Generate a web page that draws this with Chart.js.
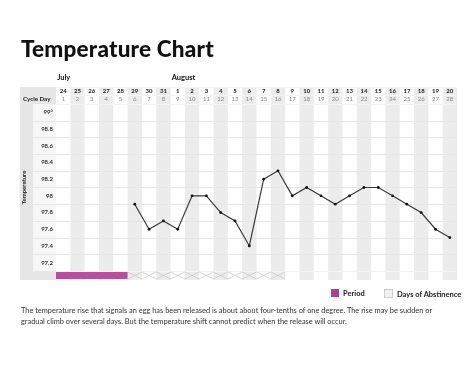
<!DOCTYPE html>
<html lang="en">
<head>
    <meta charset="UTF-8">
    <title>Temperature Chart</title>
    <script src="https://cdn.jsdelivr.net/npm/chart.js"></script>
    <style>
        body {
            margin: 0;
            background: #fff;
            font-family: Lato, Arial, sans-serif;
        }
        .wrap {
            position: relative;
            width: 474px;
            height: 366px;
            overflow: hidden;
        }
        #tempChart {
            position: absolute;
            left: 0;
            top: 0;
        }
        h1 {
            position: absolute;
            left: 21px;
            top: 35px;
            margin: 0;
            font-size: 22.5px;
            font-weight: 900;
            color: #111;
            letter-spacing: 0.2px;
        }
        .legend {
            position: absolute;
            top: 289px;
            font-size: 7.5px;
            font-weight: 700;
            color: #222;
        }
        .legend span {
            display: inline-block;
            width: 8px;
            height: 8px;
            vertical-align: -1px;
            margin-right: 4px;
        }
        .note {
            position: absolute;
            left: 21px;
            top: 305px;
            width: 416px;
            margin: 0;
            font-size: 7.4px;
            line-height: 11px;
            color: #333;
        }
    </style>
</head>
<body>
    <div class="wrap">
        <canvas id="tempChart" width="474" height="366"></canvas>
        <h1>Temperature Chart</h1>
        <div class="legend" style="left:331px"><span style="background:#a8418f"></span>Period</div>
        <div class="legend" style="left:384px"><span style="background:#f2f2f2;border:0.5px solid #ccc;width:7px;height:7px"></span>Days of Abstinence</div>
        <p class="note">The temperature rise that signals an egg has been released is about about four-tenths of one degree. The rise may be sudden or gradual climb over several days. But the temperature shift cannot predict when the release will occur.</p>
    </div>

    <script>
        const dates = ['24','25','26','27','28','29','30','31','1','2','3','4','5','6','7','8','9','10','11','12','13','14','15','16','17','18','19','20'];
        const cycleDays = ['1','2','3','4','5','6','7','8','9','10','11','12','13','14','15','16','17','18','19','20','21','22','23','24','25','26','27','28'];
        const temps = [null,null,null,null,null,97.9,97.6,97.7,97.6,98.0,98.0,97.8,97.7,97.4,98.2,98.3,98.0,98.1,98.0,97.9,98.0,98.1,98.1,98.0,97.9,97.8,97.6,97.5];
        const yTicks = [99,98.8,98.6,98.4,98.2,98,97.8,97.6,97.4,97.2];
        const months = [{label: 'July', at: 0}, {label: 'August', at: 8}];
        const periodDays = [0, 4];      // column range
        const abstinenceDays = [5, 15]; // column range

        const gray = '#ececec';

        const backdrop = {
            id: 'backdrop',
            beforeDraw(chart) {
                const c = chart.ctx;
                const x = chart.scales.x, y = chart.scales.y;
                const a = chart.chartArea;
                const w = (x.getPixelForValue(1) - x.getPixelForValue(0));
                const headTop = 87, rowMid = 95, rowBot = 280;
                c.save();
                // left side panels
                c.fillStyle = '#e6e6e6';
                c.fillRect(20, headTop, a.left - 20, a.top - headTop);
                c.fillRect(20, a.top, 13, rowBot - a.top);
                c.fillRect(33, a.bottom, a.left - 33, rowBot - a.bottom);
                c.fillStyle = '#f6f6f6';
                c.fillRect(33, a.top, a.left - 33, a.bottom - a.top);
                // column stripes
                c.fillStyle = gray;
                dates.forEach((d, i) => {
                    if (i % 2 === 1) {
                        const cx = x.getPixelForValue(i);
                        c.fillRect(cx - w / 2, headTop, w, rowBot - headTop);
                    }
                });
                // horizontal grid between ticks
                c.strokeStyle = '#e6e6e6';
                c.lineWidth = 1;
                for (let v = 97.3; v < 99.05; v += 0.2) {
                    const py = Math.round(y.getPixelForValue(v)) + 0.5;
                    c.beginPath();
                    c.moveTo(33, py);
                    c.lineTo(a.right, py);
                    c.stroke();
                }
                [headTop, rowMid, a.top, a.bottom].forEach(py => {
                    c.strokeStyle = '#f4f4f4';
                    c.beginPath();
                    c.moveTo(a.left, py + 0.5);
                    c.lineTo(a.right, py + 0.5);
                    c.stroke();
                });
                // period bar
                const pl = x.getPixelForValue(periodDays[0]) - w / 2;
                const pr = x.getPixelForValue(periodDays[1]) + w / 2;
                c.fillStyle = '#b5519c';
                c.fillRect(pl, a.bottom + 1, pr - pl, rowBot - a.bottom - 2);
                // abstinence crosses
                c.strokeStyle = '#c4c4c4';
                c.lineWidth = 0.7;
                for (let i = abstinenceDays[0]; i <= abstinenceDays[1]; i++) {
                    const l = x.getPixelForValue(i) - w / 2;
                    c.beginPath();
                    c.moveTo(l, a.bottom + 1);
                    c.lineTo(l + w, rowBot - 1);
                    c.moveTo(l, rowBot - 1);
                    c.lineTo(l + w, a.bottom + 1);
                    c.stroke();
                }
                // header text
                c.textAlign = 'center';
                c.textBaseline = 'middle';
                dates.forEach((d, i) => {
                    const cx = x.getPixelForValue(i);
                    c.fillStyle = '#222';
                    c.font = 'bold 6px Lato, sans-serif';
                    c.fillText(d, cx, 91.5);
                    c.fillStyle = '#888';
                    c.font = '6px Lato, sans-serif';
                    c.fillText(cycleDays[i], cx, 99.5);
                });
                c.fillStyle = '#111';
                c.font = 'bold 7.5px Lato, sans-serif';
                months.forEach(m => {
                    c.textAlign = 'left';
                    c.fillText(m.label, x.getPixelForValue(m.at) - 6, 78);
                });
                c.fillStyle = '#222';
                c.font = 'bold 6.2px Lato, sans-serif';
                c.fillText('Cycle Day', 23, 99.5);
                c.restore();
            }
        };

        new Chart(document.getElementById('tempChart'), {
            type: 'line',
            data: {
                labels: dates,
                datasets: [{
                    data: temps,
                    borderColor: '#3a3a3a',
                    borderWidth: 1.2,
                    pointRadius: 1.4,
                    pointBackgroundColor: '#111',
                    pointBorderWidth: 0,
                    tension: 0
                }]
            },
            options: {
                responsive: false,
                animation: false,
                layout: { padding: { left: 20, right: 17, top: 104, bottom: 95 } },
                plugins: { legend: { display: false }, tooltip: { enabled: false } },
                scales: {
                    x: {
                        display: false,
                        offset: true
                    },
                    y: {
                        min: 97.1,
                        max: 99.1,
                        afterFit: s => { s.width = 36; },
                        afterBuildTicks: s => { s.ticks = yTicks.map(v => ({ value: v })); },
                        grid: { display: false, drawTicks: false },
                        border: { display: false },
                        title: {
                            display: true,
                            text: 'Temperature',
                            color: '#222',
                            font: { family: 'Lato', size: 6, weight: 'bold' },
                            padding: { top: 0, bottom: 6 }
                        },
                        ticks: {
                            color: '#333',
                            padding: 3,
                            font: { family: 'Lato', size: 6, weight: 'bold' },
                            callback: v => v === 99 ? '99°' : (v === 98 ? '98' : v.toFixed(1))
                        }
                    }
                }
            },
            plugins: [backdrop]
        });
    </script>
</body>
</html>
